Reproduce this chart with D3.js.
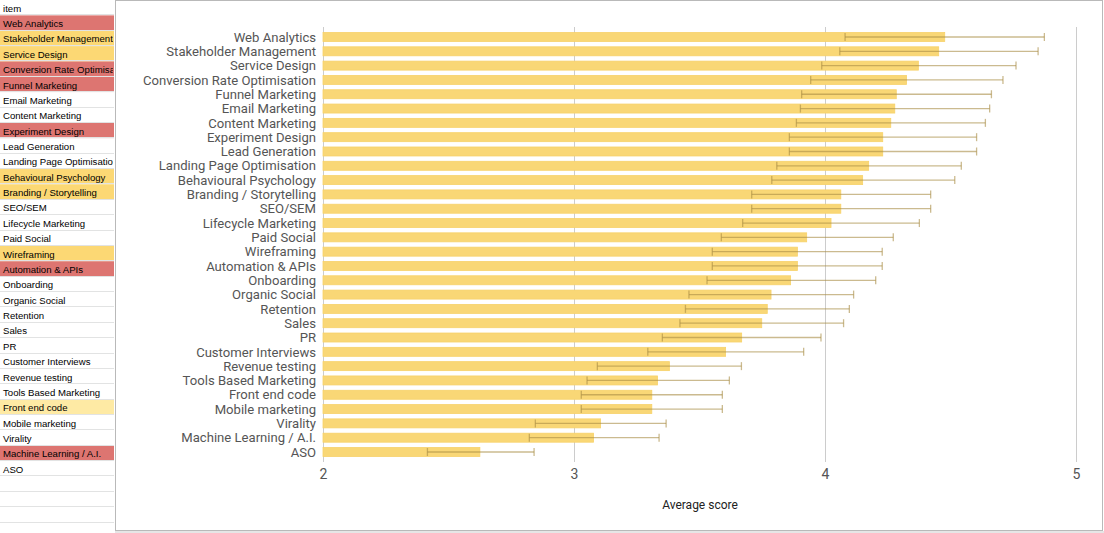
<!DOCTYPE html>
<html>
<head>
<meta charset="utf-8">
<script src="https://cdn.jsdelivr.net/npm/d3@7"></script>
<style>
  html, body { margin: 0; padding: 0; background: #fff; }
  svg { display: block; }
</style>
</head>
<body>
<svg id="chart" width="1104" height="533"></svg>
<script>
// ---- data ----
const categories = [
  "Web Analytics", "Stakeholder Management", "Service Design", "Conversion Rate Optimisation",
  "Funnel Marketing", "Email Marketing", "Content Marketing", "Experiment Design",
  "Lead Generation", "Landing Page Optimisation", "Behavioural Psychology", "Branding / Storytelling",
  "SEO/SEM", "Lifecycle Marketing", "Paid Social", "Wireframing", "Automation & APIs",
  "Onboarding", "Organic Social", "Retention", "Sales", "PR", "Customer Interviews",
  "Revenue testing", "Tools Based Marketing", "Front end code", "Mobile marketing",
  "Virality", "Machine Learning / A.I.", "ASO"
];
const averageScore = [
  4.477, 4.453, 4.372, 4.325, 4.284, 4.278, 4.262, 4.230, 4.230, 4.174,
  4.150, 4.063, 4.063, 4.024, 3.927, 3.890, 3.890, 3.863, 3.785, 3.770,
  3.748, 3.668, 3.604, 3.380, 3.333, 3.310, 3.310, 3.106, 3.078, 2.625
];
const lowerBound = [
  4.080, 4.059, 3.987, 3.943, 3.907, 3.902, 3.886, 3.858, 3.858, 3.808,
  3.788, 3.708, 3.708, 3.672, 3.587, 3.551, 3.551, 3.530, 3.458, 3.444,
  3.422, 3.352, 3.294, 3.093, 3.052, 3.029, 3.029, 2.846, 2.822, 2.416
];
const upperBound = [
  4.874, 4.849, 4.761, 4.709, 4.663, 4.656, 4.639, 4.604, 4.604, 4.543,
  4.517, 4.421, 4.421, 4.376, 4.272, 4.228, 4.228, 4.202, 4.114, 4.097,
  4.074, 3.984, 3.915, 3.667, 3.619, 3.591, 3.591, 3.367, 3.339, 2.841
];
// spreadsheet highlight group per category ("" = none)
const highlight = [
  "red", "yellow", "yellow", "red", "red", "", "", "red", "", "",
  "yellow", "yellow", "", "", "", "yellow", "red", "", "", "",
  "", "", "", "", "", "paleyellow", "", "", "red", ""
];
const xTicks = [2, 3, 4, 5];
const sheetHeader = "item";
const axisTitle = "Average score";

// ---- drawing ----
const svg = d3.select("#chart");
const W = 1104, H = 533;

// Spreadsheet column on the left
const rowH = 15.37, colW = 114;
const sheetRows = [sheetHeader].concat(categories);
const nRows = Math.ceil(H / rowH) + 1;
const fillScale = d3.scaleOrdinal()
  .domain(["red", "yellow", "paleyellow", ""])
  .range(["#dd7571", "#fcd874", "#feeaa4", "#ffffff"]);

const sheet = svg.append("g");
sheet.append("defs").append("clipPath").attr("id", "sheetclip")
  .append("rect").attr("x", 0).attr("y", 0).attr("width", colW - 1).attr("height", H);

sheet.selectAll("rect.cell")
  .data(sheetRows.map((t, i) => ({ t, i, h: i === 0 ? "" : highlight[i - 1] })))
  .join("rect")
  .attr("class", "cell")
  .attr("x", 0)
  .attr("y", d => d.i * rowH)
  .attr("width", colW)
  .attr("height", rowH)
  .attr("fill", d => fillScale(d.h));

sheet.selectAll("line.rowline")
  .data(d3.range(1, nRows))
  .join("line")
  .attr("class", "rowline")
  .attr("x1", 0).attr("x2", colW)
  .attr("y1", i => Math.round(i * rowH) - 0.5)
  .attr("y2", i => Math.round(i * rowH) - 0.5)
  .attr("stroke", "#e2e3e3")
  .attr("stroke-width", 1);

sheet.append("g").attr("clip-path", "url(#sheetclip)")
  .selectAll("text")
  .data(sheetRows)
  .join("text")
  .attr("x", 3)
  .attr("y", (d, i) => i * rowH + rowH / 2 + 0.5)
  .attr("dominant-baseline", "central")
  .attr("font-family", "Liberation Sans, Arial, sans-serif")
  .attr("font-size", 9.6)
  .attr("fill", "#000")
  .text(d => d);

// Chart frame
svg.append("rect")
  .attr("x", 115.5).attr("y", 0.5)
  .attr("width", 987).attr("height", 530)
  .attr("fill", "#fff")
  .attr("stroke", "#b9b9b9")
  .attr("stroke-width", 1);
svg.append("rect")
  .attr("x", 115).attr("y", 531)
  .attr("width", 989).attr("height", 2)
  .attr("fill", "#e6e6e6");

// Scales
const x = d3.scaleLinear().domain([2, 5]).range([323, 1076]);
const y = d3.scalePoint().domain(categories).range([37, 452]);
const barH = 9;
const capH = 8;

// Gridlines and x tick labels
const xAxis = d3.axisBottom(x).tickValues(xTicks).tickSize(-(462 - 27)).tickFormat(d3.format("d"));
const gx = svg.append("g").attr("transform", "translate(0,462)").call(xAxis);
gx.select(".domain").remove();
gx.selectAll(".tick line").attr("stroke", "#cccccc").attr("stroke-width", 1);
gx.selectAll(".tick text")
  .attr("y", 13)
  .attr("dy", "0.32em")
  .attr("font-family", "Roboto, Arial, sans-serif")
  .attr("font-size", 14)
  .attr("fill", "#555");

// Bars
svg.append("g").selectAll("rect")
  .data(categories)
  .join("rect")
  .attr("x", x(2))
  .attr("y", d => y(d) - barH / 2)
  .attr("width", (d, i) => x(averageScore[i]) - x(2))
  .attr("height", barH)
  .attr("fill", "#f9d776")
  .attr("stroke", "#f7d26a")
  .attr("stroke-width", 0.8);

// Error bars
const eb = svg.append("g")
  .attr("stroke", "#a88c45")
  .attr("stroke-opacity", 0.6)
  .attr("stroke-width", 1.3)
  .attr("fill", "none");
categories.forEach((c, i) => {
  const cy = y(c);
  const x0 = x(lowerBound[i]), x1 = x(upperBound[i]);
  eb.append("line").attr("x1", x0).attr("x2", x1).attr("y1", cy).attr("y2", cy);
  eb.append("line").attr("x1", x0).attr("x2", x0).attr("y1", cy - capH / 2).attr("y2", cy + capH / 2);
  eb.append("line").attr("x1", x1).attr("x2", x1).attr("y1", cy - capH / 2).attr("y2", cy + capH / 2);
});

// Y axis labels
const yAxis = d3.axisLeft(y).tickSize(0).tickPadding(7);
const gy = svg.append("g").attr("transform", `translate(${x(2)},0)`).call(yAxis);
gy.select(".domain").remove();
gy.selectAll(".tick text")
  .attr("font-family", "Roboto, Arial, sans-serif")
  .attr("font-size", 13.1)
  .attr("fill", "#555");

// Axis title
svg.append("text")
  .attr("x", 700)
  .attr("y", 505)
  .attr("text-anchor", "middle")
  .attr("dominant-baseline", "central")
  .attr("font-family", "Roboto, Arial, sans-serif")
  .attr("font-size", 12)
  .attr("fill", "#222")
  .text(axisTitle);
</script>
</body>
</html>
